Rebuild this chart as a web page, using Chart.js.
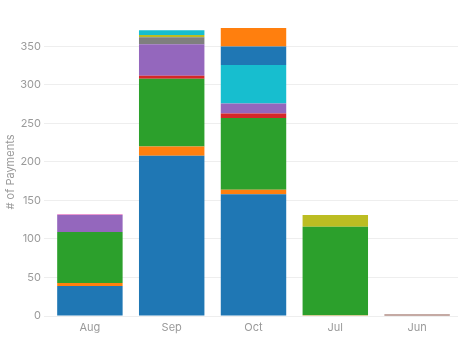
<!DOCTYPE html>
<html>
<head>
<meta charset="utf-8">
<script src="https://cdn.jsdelivr.net/npm/chart.js@4"></script>
<style>
  html, body { margin: 0; padding: 0; background: #fff; }
  #wrap { width: 474px; height: 346px; }
</style>
</head>
<body>
<div id="wrap"><canvas id="paymentsChart"></canvas></div>
<script>
// --- data ---
const months = ['Aug', 'Sep', 'Oct', 'Jul', 'Jun'];
const yTicks = [0, 50, 100, 150, 200, 250, 300, 350];

const series1 = [39, 208, 158, 0, 0];
const series2 = [4, 12, 6, 1, 0];
const series3 = [66, 88, 93, 115, 0];
const series4 = [0, 4, 6, 0, 0];
const series5 = [22, 41, 13, 0, 0];
const series6 = [0, 0, 0, 0, 2];
const series7 = [1, 0, 0, 0, 0];
const series8 = [0, 9, 0, 0, 0];
const series9 = [0, 3, 0, 15, 0];
const series10 = [0, 6, 50, 0, 0];
const series11 = [0, 0, 24, 0, 0];
const series12 = [0, 0, 24, 0, 0];

const allSeries = [series1, series2, series3, series4, series5, series6,
                   series7, series8, series9, series10, series11, series12];
// category10 palette, repeats after ten
const palette = ['#1f77b4', '#ff7f0e', '#2ca02c', '#d62728', '#9467bd',
                 '#8c564b', '#e377c2', '#7f7f7f', '#bcbd22', '#17becf'];

const totals = months.map((m, i) => allSeries.reduce((s, arr) => s + arr[i], 0));
const yMax = Math.max(...totals);

const labelColor = '#9a9a9a';
const gridColor = '#eeeeee';
Chart.defaults.font.family = 'Inter, "Open Sans", sans-serif';

new Chart(document.getElementById('paymentsChart'), {
    type: 'bar',
    data: {
        labels: months,
        datasets: allSeries.map((arr, i) => ({
            label: 'series ' + (i + 1),
            data: arr,
            backgroundColor: palette[i % palette.length],
            borderWidth: 0,
            categoryPercentage: 1.0,
            barPercentage: 0.8
        }))
    },
    options: {
        responsive: true, maintainAspectRatio: false, animation: false,
        layout: { padding: { top: 28, right: 16, bottom: 10, left: 0 } },
        plugins: { legend: { display: false }, tooltip: { enabled: false } },
        scales: {
            x: {
                stacked: true,
                grid: { display: false, drawTicks: false },
                border: { display: false },
                ticks: { color: labelColor, font: { size: 11 }, padding: 5 },
                afterFit: s => { s.height = 20; }
            },
            y: {
                stacked: true, min: 0, max: yMax,
                border: { display: false },
                grid: { color: gridColor, tickLength: 5, tickColor: gridColor },
                ticks: { color: labelColor, font: { size: 11 }, padding: 3, stepSize: 50 },
                afterBuildTicks: s => { s.ticks = yTicks.map(v => ({ value: v })); },
                title: { display: true, text: '# of Payments', color: labelColor, font: { size: 11 }, padding: { top: 4, bottom: 0 } },
                afterFit: s => { s.width = 49; }
            }
        }
    }
});
</script>
</body>
</html>
